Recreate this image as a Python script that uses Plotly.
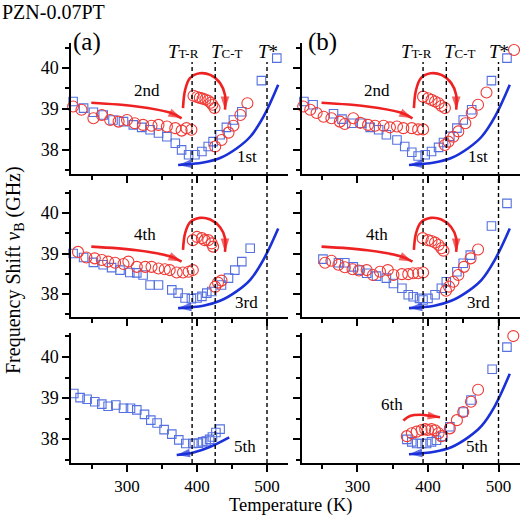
import plotly.graph_objects as go

FONT = "Liberation Serif"
RED = "#ee2222"
BLUE = "#1a30d8"
SQC = "#5570e0"
CIC = "#f03a35"

# ---------------- data (T in K, frequency shift in GHz) ----------------
sq_T1 = [223, 238, 252, 266, 280, 295, 309, 321, 333, 345, 357, 369, 378, 388, 397, 407, 416, 423, 433, 442, 452, 464, 492, 514]
sq_V1 = [39.18, 39.02, 38.92, 38.85, 38.73, 38.69, 38.61, 38.55, 38.49, 38.41, 38.32, 38.16, 38.00, 37.88, 37.88, 37.96, 38.08, 38.20, 38.37, 38.55, 38.73, 38.93, 39.69, 40.24]
ci_T1 = [223, 235, 252, 264, 276, 288, 300, 311, 323, 335, 345, 357, 369, 378, 385, 392, 395, 400, 404, 408, 412, 416, 419.5, 422, 425, 426, 435, 445, 452, 462, 472]
ci_V1 = [39.06, 38.98, 38.77, 38.85, 38.73, 38.69, 38.73, 38.65, 38.61, 38.59, 38.61, 38.57, 38.53, 38.47, 38.53, 38.49, 39.32, 39.29, 39.27, 39.25, 39.23, 39.20, 39.15, 39.10, 39.02, 38.08, 38.24, 38.42, 38.59, 38.85, 39.14]

sq_T2 = [224, 237, 266, 278, 292, 306, 318, 330, 341, 356, 367, 377, 386, 396, 405, 415, 422, 431, 441, 450, 462, 490, 512]
sq_V2 = [39.18, 39.10, 38.88, 38.75, 38.65, 38.65, 38.55, 38.49, 38.37, 38.24, 38.08, 37.94, 37.85, 37.88, 37.96, 38.06, 38.18, 38.33, 38.53, 38.73, 38.98, 39.69, 40.24]
ci_T2 = [223, 233, 242, 252, 263, 275, 282, 294, 304, 315, 325, 337, 346, 356, 365, 377, 386, 393, 393, 400, 405, 410, 415, 419, 424, 424, 429, 436, 443, 453, 462, 471, 483, 522]
ci_V2 = [39.06, 38.98, 38.90, 38.81, 38.77, 38.69, 38.63, 38.77, 38.66, 38.61, 38.59, 38.59, 38.55, 38.57, 38.53, 38.53, 38.50, 38.50, 39.30, 39.26, 39.22, 39.18, 39.14, 39.07, 39.02, 38.12, 38.20, 38.32, 38.45, 38.65, 38.90, 39.10, 39.40, 40.44]

sq_T3 = [223, 238, 252, 266, 278, 290, 304, 314, 323, 333, 345, 364, 373, 383, 392, 400, 407, 414, 421, 435, 445, 454, 464, 476]
sq_V3 = [39.00, 38.90, 38.78, 38.72, 38.65, 38.59, 38.53, 38.52, 38.47, 38.22, 38.22, 38.10, 38.02, 37.90, 37.88, 37.90, 37.94, 38.02, 38.06, 38.22, 38.39, 38.59, 38.80, 39.13]
ci_T3 = [230, 242, 254, 264, 273, 283, 295, 302, 314, 326, 335, 345, 354, 361, 371, 380, 388, 394, 394, 400, 407, 411, 416, 421, 423, 426, 430, 435]
ci_V3 = [39.04, 38.90, 38.88, 38.84, 38.80, 38.77, 38.74, 38.80, 38.67, 38.67, 38.67, 38.63, 38.61, 38.59, 38.53, 38.53, 38.55, 38.59, 39.33, 39.41, 39.38, 39.33, 39.33, 39.25, 39.17, 38.18, 38.28, 38.33]

sq_T4 = [251, 273, 282, 294, 303, 313, 327, 341, 351, 363, 372, 379, 388, 393, 400, 410, 419, 426, 441, 450, 460, 490, 512]
sq_V4 = [38.86, 38.77, 38.77, 38.67, 38.59, 38.51, 38.44, 38.39, 38.26, 38.14, 37.98, 37.93, 37.89, 37.85, 37.89, 37.98, 38.14, 38.30, 38.55, 38.76, 38.96, 39.68, 40.24]
ci_T4 = [254, 263, 273, 282, 293, 302, 313, 322, 332, 343, 351, 363, 372, 379, 386, 393, 392.5, 400, 405, 410, 415, 419, 422, 425.5, 430, 436, 443, 451, 460.5, 471]
ci_V4 = [38.77, 38.82, 38.72, 38.66, 38.61, 38.58, 38.59, 38.47, 38.55, 38.59, 38.47, 38.49, 38.49, 38.51, 38.51, 38.53, 39.38, 39.33, 39.31, 39.27, 39.21, 39.13, 39.07, 38.08, 38.18, 38.30, 38.47, 38.67, 38.88, 39.10]

sq_T5 = [224, 233, 243, 254, 264, 273, 284, 295, 305, 314, 325, 334, 343, 353, 364, 374, 384, 394, 402, 408, 413, 418, 422, 427, 433]
sq_V5 = [39.11, 39.01, 38.97, 38.91, 38.85, 38.80, 38.83, 38.75, 38.75, 38.71, 38.60, 38.46, 38.39, 38.23, 38.12, 37.98, 37.89, 37.89, 37.90, 37.93, 37.95, 37.99, 38.05, 38.16, 38.24]

sq_T6 = [370, 377, 384, 391, 398, 405, 412, 421, 431, 450, 461, 491, 512]
sq_V6 = [37.99, 37.93, 37.89, 37.89, 37.89, 37.93, 37.97, 38.06, 38.30, 38.66, 38.95, 39.70, 40.24]
ci_T6 = [370, 377, 384, 391, 396, 400, 405, 410, 415, 419, 431, 441, 450, 461, 471, 521]
ci_V6 = [38.07, 38.14, 38.18, 38.22, 38.24, 38.22, 38.24, 38.21, 38.14, 38.07, 38.26, 38.46, 38.66, 38.91, 39.20, 40.51]

# guide arrows (hand-drawn in the original)
red_T = [249, 314, 361, 378]
red_V_top = [39.15, 39.06, 38.91, 38.77]
red_V_mid = [39.17, 39.08, 38.93, 38.80]
arc_T = [380, 383, 390, 404, 419, 433, 440, 440]
arc_V_top = [39.02, 39.46, 39.75, 39.87, 39.83, 39.63, 39.34, 38.98]
arc_V_mid = [39.09, 39.50, 39.77, 39.88, 39.84, 39.65, 39.38, 39.04]
blue_T = [516, 495, 476, 457, 433, 409, 373]
blue_V_top = [39.59, 38.81, 38.32, 38.04, 37.80, 37.69, 37.63]
blue_V_mid = [39.62, 38.85, 38.35, 38.07, 37.83, 37.71, 37.65]
b5_T = [446, 419, 395, 371]
b5_V = [38.04, 37.81, 37.67, 37.61]
r6_T = [365, 374.5, 389, 405, 417]
r6_V = [38.45, 38.56, 38.59, 38.56, 38.53]

T_lines = [393, 426, 500]
T_labels = ["<i>T</i><span style='font-size:13px'>T-R</span>",
            "<i>T</i><span style='font-size:13px'>C-T</span>",
            "<i>T</i>*"]
T_label_x = [[380, 443, 501], [383, 445, 500]]
x_ticks = [300, 400, 500]
x_minor = [250, 350, 450]
y_ticks = [38, 39, 40]
y_minor = [37.5, 38.5, 39.5, 40.5]

# ---------------- layout geometry ----------------
W, H = 520, 516
def fx(p): return p / W
def fy(p): return 1 - p / H

col_px = [(71, 288), (302, 520)]
row_px = [(43, 174), (190, 317), (333, 463)]
x_ranges = [[220, 530], [221.3, 530.5]]
y_ranges = [[37.41, 40.61], [37.43, 40.57], [37.415, 40.585]]

fig = go.Figure()
layout = dict(width=W, height=H, margin=dict(l=0, r=0, t=0, b=0),
              paper_bgcolor="white", plot_bgcolor="white", showlegend=False,
              font=dict(family=FONT, color="black"))
annotations = []
shapes = []

def ax_name(i, kind):
    return kind if i == 1 else f"{kind}{i}"

for r in range(3):
    for c in range(2):
        i = r * 2 + c + 1
        xa = ax_name(i, "x"); ya = ax_name(i, "y")
        layout[("xaxis" if i == 1 else f"xaxis{i}")] = dict(
            domain=[fx(col_px[c][0]), min(1.0, fx(col_px[c][1]))], range=x_ranges[c],
            anchor=ya, showline=True, linecolor="black", linewidth=1.5, mirror=False,
            showgrid=False, zeroline=False, ticks="outside", ticklen=7, tickwidth=1.5,
            tickcolor="black", tickmode="array", tickvals=x_ticks,
            showticklabels=(r == 2), tickfont=dict(family=FONT, size=17, color="black"),
            minor=dict(tickmode="array", tickvals=x_minor, ticks="outside", ticklen=4,
                       tickwidth=1.5, tickcolor="black", showgrid=False))
        layout[("yaxis" if i == 1 else f"yaxis{i}")] = dict(
            domain=[fy(row_px[r][1]), fy(row_px[r][0])], range=y_ranges[r],
            anchor=xa, showline=True, linecolor="black", linewidth=1.5, mirror=False,
            showgrid=False, zeroline=False, ticks="outside", ticklen=7, tickwidth=1.5,
            tickcolor="black", tickmode="array", tickvals=y_ticks,
            showticklabels=(c == 0), tickfont=dict(family=FONT, size=18, color="black"),
            minor=dict(tickmode="array", tickvals=y_minor, ticks="outside", ticklen=4,
                       tickwidth=1.5, tickcolor="black", showgrid=False))

def squares(T, V, i):
    fig.add_trace(go.Scatter(x=T, y=V, mode="markers", xaxis=ax_name(i, "x"), yaxis=ax_name(i, "y"),
                             marker=dict(symbol="square-open", size=8.5, color=SQC, line=dict(width=1.1)),
                             cliponaxis=False))

def circles(T, V, i):
    fig.add_trace(go.Scatter(x=T, y=V, mode="markers", xaxis=ax_name(i, "x"), yaxis=ax_name(i, "y"),
                             marker=dict(symbol="circle-open", size=11, color=CIC, line=dict(width=1.1)),
                             cliponaxis=False))

def arrow(T, V, i, color, head=14):
    xa, ya = ax_name(i, "x"), ax_name(i, "y")
    fig.add_trace(go.Scatter(x=T, y=V, mode="lines", xaxis=xa, yaxis=ya,
                             line=dict(color=color, width=2.6, shape="spline", smoothing=1.0),
                             cliponaxis=False))
    fig.add_trace(go.Scatter(x=T[-2:], y=V[-2:], mode="markers", xaxis=xa, yaxis=ya,
                             marker=dict(symbol="arrow", size=[0, head], angleref="previous",
                                         color=color, line=dict(width=0)),
                             cliponaxis=False))

def label(text, T, V, i, size=17):
    annotations.append(dict(text=text, x=T, y=V, xref=ax_name(i, "x"), yref=ax_name(i, "y"),
                            xanchor="center", yanchor="middle",
                            showarrow=False, font=dict(family=FONT, size=size, color="black")))

# panel 1
squares(sq_T1, sq_V1, 1); circles(ci_T1, ci_V1, 1)
arrow(red_T, red_V_top, 1, RED); arrow(arc_T, arc_V_top, 1, RED); arrow(blue_T, blue_V_top, 1, BLUE)
label("2nd", 328, 39.46, 1); label("1st", 471, 37.84, 1)
# panel 2
squares(sq_T2, sq_V2, 2); circles(ci_T2, ci_V2, 2)
arrow(red_T, red_V_top, 2, RED); arrow(arc_T, arc_V_top, 2, RED); arrow(blue_T, blue_V_top, 2, BLUE)
label("2nd", 327, 39.46, 2); label("1st", 471, 37.84, 2)
# panel 3
squares(sq_T3, sq_V3, 3); circles(ci_T3, ci_V3, 3)
arrow(red_T, red_V_mid, 3, RED); arrow(arc_T, arc_V_mid, 3, RED); arrow(blue_T, blue_V_mid, 3, BLUE)
label("4th", 326, 39.46, 3); label("3rd", 471, 37.80, 3)
# panel 4
squares(sq_T4, sq_V4, 4); circles(ci_T4, ci_V4, 4)
arrow(red_T, red_V_mid, 4, RED); arrow(arc_T, arc_V_mid, 4, RED); arrow(blue_T, blue_V_mid, 4, BLUE)
label("4th", 327, 39.46, 4); label("3rd", 471, 37.80, 4)
# panel 5
squares(sq_T5, sq_V5, 5)
arrow(b5_T, b5_V, 5, BLUE)
label("5th", 469, 37.81, 5)
# panel 6
squares(sq_T6, sq_V6, 6); circles(ci_T6, ci_V6, 6)
arrow(blue_T, blue_V_top, 6, BLUE); arrow(r6_T, r6_V, 6, RED, head=13)
label("5th", 469, 37.81, 6); label("6th", 348.5, 38.83, 6)

# dashed temperature markers spanning each column
for c in range(2):
    xa = ax_name(5 + c, "x")
    for k, T in enumerate(T_lines):
        shapes.append(dict(type="line", xref=xa, yref="paper", x0=T, x1=T,
                           y0=fy(row_px[2][1]), y1=fy(62),
                           line=dict(color="black", width=1.4, dash="4px,3px")))
        annotations.append(dict(text=T_labels[k], x=T_label_x[c][k], y=fy(52), xref=xa, yref="paper",
                                xanchor="center", yanchor="middle",
                                showarrow=False, font=dict(family=FONT, size=19, color="black")))

def ptext(text, x, y, size, angle=0, xanchor="center"):
    annotations.append(dict(text=text, x=fx(x), y=fy(y), xref="paper", yref="paper",
                            xanchor=xanchor, yanchor="middle", textangle=angle,
                            showarrow=False, font=dict(family=FONT, size=size, color="black")))

ptext("PZN-0.07PT", 0, 12, 20, xanchor="left")
ptext("(a)", 87, 42, 25)
ptext("(b)", 322, 42, 25)
ptext("Frequency Shift <i>ν</i><sub>B</sub> (GHz)", 14, 270, 20, angle=-90)
ptext("Temperature (K)", 291, 505, 18.5)

layout["annotations"] = annotations
layout["shapes"] = shapes
fig.update_layout(**layout)
fig.write_html("out.html")
